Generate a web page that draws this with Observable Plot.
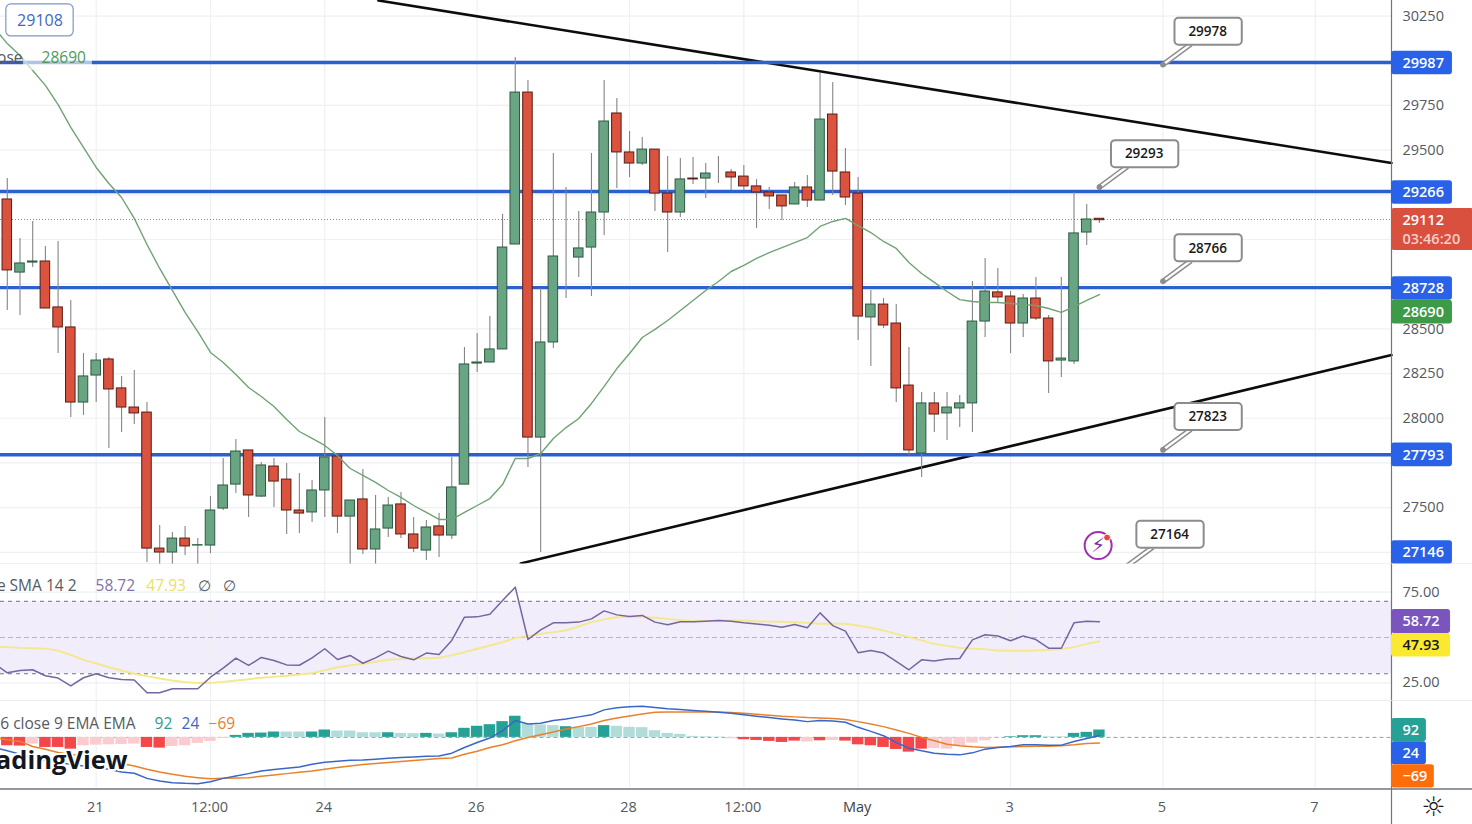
<!DOCTYPE html>
<html>
<head>
<meta charset="utf-8">
<script src="https://cdn.jsdelivr.net/npm/d3@7"></script>
<script src="https://cdn.jsdelivr.net/npm/@observablehq/plot@0.6"></script>
<style>
html,body{margin:0;padding:0;background:#fff;overflow:hidden}
#chart svg{display:block;overflow:hidden}
</style>
</head>
<body>
<div id="chart"></div>
<script>
// ---- data (4h candles, index 0 = 19 Apr 20:00) ----
const opens=[29224,28815,28871,28877,28620,28508,28088,28239,28329,28167,
28060,28032,27271,27249,27327,27288,27288,27495,27629,27820,
27562,27730,27657,27484,27473,27596,27786,27450,27546,27266,
27383,27518,27350,27260,27395,27344,27629,28306,28312,28385,
28972,29822,27892,28424,28899,28899,28955,29151,29705,29487,
29425,29503,29257,29151,29341,29341,29375,29375,29352,29297,
29263,29246,29196,29291,29218,29699,29375,29257,28564,28636,
28530,28183,27803,28083,28027,28055,28083,28541,28704,28681,
28530,28670,28558,28323,28318,29039,29116];
const highs=[29341,29006,29101,28961,28989,28659,28362,28362,28340,28234,
28267,28088,27400,27361,27395,27327,27562,27775,27881,27820,
27753,27775,27747,27691,27652,28004,27786,27540,27713,27568,
27557,27585,27445,27428,27467,27781,28396,28474,28569,29140,
30018,29890,28726,29481,29291,29157,29481,29890,29789,29604,
29571,29503,29464,29453,29459,29425,29464,29392,29414,29336,
29291,29246,29319,29358,29929,29878,29509,29347,28715,28670,
28636,28396,28144,28144,28144,28127,28765,28894,28838,28709,
28692,28787,28575,28787,29263,29196,29118];
const lows=[28603,28575,28843,28614,28362,28004,28016,28088,27831,27920,
27965,27193,27150,27150,27232,27170,27243,27484,27579,27445,
27557,27501,27350,27355,27417,27445,27355,27150,27238,27170,
27333,27327,27249,27204,27221,27322,27629,28256,28312,28385,
28972,27725,27249,28390,28670,28787,28681,29022,29285,29347,
29414,29157,28927,29123,29308,29229,29313,29274,29274,29062,
29168,29106,29196,29179,29218,29246,29190,28435,28290,28502,
28088,27792,27669,27920,27876,27948,27920,28452,28642,28362,
28452,28547,28139,28228,28301,28966,29090];
const closes=[28827,28866,28877,28614,28508,28088,28234,28323,28161,28060,
28027,27271,27249,27327,27283,27290,27484,27624,27814,27568,
27736,27646,27484,27467,27596,27781,27450,27540,27266,27378,
27512,27350,27271,27389,27344,27613,28301,28312,28385,28955,
29822,27892,28424,28905,28899,28950,29151,29660,29487,29425,
29503,29257,29151,29336,29336,29369,29375,29347,29297,29263,
29241,29185,29291,29218,29671,29380,29235,28569,28636,28519,
28167,27820,28083,28021,28060,28083,28541,28709,28676,28530,
28670,28558,28318,28334,29034,29112,29108];
// indicator series begin one bar earlier (index -1)
const emaValues=[30180,30096,30029,29945,29862,29755,29627,29515,29403,29313,29235,29118,28972,28838,28715,28592,28485,28368,28312,28245,28172,28122,28066,27993,27926,27887,27848,27792,27719,27680,27641,27596,27557,27512,27473,27434,27434,27473,27512,27551,27629,27775,27775,27803,27887,27948,27999,28083,28178,28278,28362,28452,28497,28547,28603,28659,28715,28765,28821,28855,28894,28927,28955,28983,29011,29073,29101,29118,29078,29039,28989,28950,28871,28810,28760,28709,28664,28653,28648,28648,28642,28636,28631,28614,28592,28625,28659,28692];
const rsiValues=[35.5,30.5,31.8,32.2,28.9,27.6,23.3,27.8,30,27.8,26.8,26.6,19.5,19.5,21.7,21.7,21.7,28.1,33.1,38.6,34.6,39,37.3,34.9,34.7,38.8,43.8,37.9,40.1,35.8,38.8,42.5,39.5,37.7,41.4,40.6,48.4,61.2,61.4,62.9,70.4,77.8,48.9,54.2,58.1,58.1,58.5,60.3,64.7,62.5,61.6,62.2,58.5,57,58.7,58.7,59,59.4,59,58.1,57.4,56.8,55.7,57.2,55.4,63.6,56.6,53.5,41.6,42.8,41.4,36.8,32.2,37.7,37.1,38.1,38.4,48.7,51.5,50.8,48.2,50.9,48.9,44.1,44.1,58.1,59,58.72];
const rsiSignal=[44.9,44.7,44.3,44.1,43.9,42.8,40.4,37.7,35.7,33.6,31.8,30,28.7,27.4,26.3,25.4,25,25,25.5,26.3,27,27.8,28.3,28.9,29.6,30.3,32,33.6,34.6,35.5,36.6,37.7,38.1,38.4,38.6,38.8,40.3,41.9,43.8,45.6,47.4,49.8,50.9,52,53,53.9,56.1,58.5,60,61.2,61.4,61.4,60.9,60.3,59.6,59,59.2,59.4,59.4,59.4,59,58.8,58.7,58.5,58.1,57.6,57.6,57.6,56.6,55.4,53.9,52,50.2,48.4,46.5,45.4,44.3,43.9,43.6,42.8,42.7,42.7,42.8,43.2,43.6,44.7,46.5,47.93];
const macdValues=[-125,-167,-208,-250,-284,-313,-334,-355,-375,-396,-430,-446,-509,-542,-563,-571,-575,-550,-509,-480,-450,-417,-400,-384,-367,-334,-309,-296,-284,-280,-271,-259,-250,-242,-234,-230,-196,-125,-63,-8,83,209,167,175,209,230,255,280,342,367,380,388,371,355,346,334,325,313,300,280,263,246,230,217,196,209,205,188,125,75,21,-63,-134,-167,-196,-209,-217,-192,-146,-125,-113,-92,-92,-96,-96,-50,-13,24];
const macdSignal=[-8,-29,-50,-113,-146,-188,-209,-234,-259,-292,-325,-355,-396,-430,-459,-484,-500,-513,-509,-505,-500,-484,-467,-450,-434,-417,-396,-375,-355,-338,-325,-313,-300,-288,-275,-263,-255,-209,-171,-125,-92,-42,0,33,67,104,134,167,209,242,267,292,313,317,317,317,317,317,309,300,288,275,263,255,246,242,234,221,196,167,134,92,50,0,-42,-84,-105,-117,-125,-121,-117,-113,-109,-109,-105,-92,-75,-69];
const histValues=[-104,-108,-83,-125,-125,-146,-104,-96,-92,-88,-83,-125,-133,-113,-104,-75,-50,-13,25,50,54,67,67,67,67,92,79,79,58,58,58,50,46,50,42,58,113,138,158,196,263,167,154,146,133,125,125,146,138,125,121,83,50,38,13,8,4,-17,-29,-38,-50,-63,-46,-58,-42,-38,-46,-92,-104,-125,-150,-183,-146,-138,-146,-104,-70,-42,-4,8,21,21,8,8,50,63,92];
const histStrong="ddpddd"+"ppppp"+"dd"+"ppppp"+"dddd"+"pp"+"dd"+"pppp"+"d"+"pp"+"d"+"p"+"dddddd"+"ppp"+"d"+"pp"+"d"+"pppppppppp"+"ddddd"+"p"+"d"+"p"+"ddddddd"+"pppppp"+"ddd"+"pp"+"ddd";
const levels=[29987,29266,28728,27793];
const priceGrid=[27250,27500,27750,28000,28250,28500,28750,29000,29250,29500,29750,30000,30250];
const priceLabels=[27500,28000,28250,28500,29500,29750,30250];
const rsiTicks=[25,75];
const timeTicks=[[2023,3,21,0],[2023,3,22,12],[2023,3,24,0],[2023,3,26,0],[2023,3,28,0],[2023,3,29,12],[2023,4,1,0],[2023,4,3,0],[2023,4,5,0],[2023,4,7,0]];
const timeLabels=["21","12:00","24","26","28","12:00","May","3","5","7"];
const tagLabels=["29987","29266","28728","28690","27793","27146"];
const tagCenters=[29987,29263,28726,28594,27795,27249];
const tagColors=["#2962e8","#2962e8","#2962e8","#3d9b48","#2962e8","#2962e8"];
const noteLabels=[29978,29293,28766,27823,27164];
const noteHours=[336,316,336,336,324];

// ---- helpers and styles ----
const at=h=>new Date(Date.UTC(2023,3,21)+h*36e5);
const barH=i=>(i-7)*4;
const xDomain=[at(-30.14),at(408)];
const axisEdge=408, rightEdge=434;
const font="'Open Sans',sans-serif";
const gridC="#eef0f4", labelC="#555a62";
const W=1472;
const green="#6aa583", red="#d9533f";
const base={width:W,marginLeft:0,marginTop:0,marginBottom:0,marginRight:81,
  style:{fontFamily:font,fontSize:"14.5px",background:"#fff"}};
const xScale={type:"utc",domain:xDomain,axis:null};
const gridDates=timeTicks.map(t=>new Date(Date.UTC(...t)));
const vgrid=()=>Plot.ruleX(gridDates,{stroke:gridC,strokeWidth:1.2});
const tagRect=(data,o)=>Plot.rect(data,{x1:at(axisEdge),rx:3,...o});
const tagText=(data,o)=>Plot.text(data,{x:at(axisEdge),dx:11,textAnchor:"start",fontSize:14.5,fontWeight:600,...o});

// ---- tables ----
const candles=opens.map((o,i)=>({h:barH(i),o,hi:highs[i],lo:lows[i],c:closes[i],up:closes[i]>=o}));
const series=v=>v.map((y,k)=>({d:at(barH(k-1)),y}));
const tags=tagLabels.map((label,i)=>({label,c:tagCenters[i],color:tagColors[i]}));
const notes=noteLabels.map((v,i)=>({v,h:noteHours[i]}));
const hist=histValues.map((v,i)=>({h:barH(i),v,s:histStrong[i]||"p"}));

// ---- price pane ----
const pxP=5.594;
const main=Plot.plot({...base,height:564,
  x:xScale,y:{domain:[30337-564*pxP,30337],axis:null},
  marks:[
    vgrid(),
    Plot.ruleY(priceGrid,{stroke:gridC,strokeWidth:1.2}),
    Plot.axisY(priceLabels,{anchor:"right",label:null,tickSize:0,tickPadding:11,fill:labelC,fontSize:14.5,tickFormat:d=>String(d)}),
    Plot.ruleY([29112],{stroke:"#8a8a8a",strokeWidth:1,strokeDasharray:"1 2"}),
    Plot.line([{d:at(88.9),y:30337},{d:at(408),y:29428}],{x:"d",y:"y",stroke:"#0c0c0c",strokeWidth:2.6}),
    Plot.line([{d:at(133.7),y:27188},{d:at(408),y:28354}],{x:"d",y:"y",stroke:"#0c0c0c",strokeWidth:2.6}),
    Plot.ruleY(levels,{stroke:"#2c5fd0",strokeWidth:3.4,dy:-.5}),
    Plot.ruleX(candles,{x:d=>at(d.h),y1:"lo",y2:"hi",stroke:"#858585",strokeWidth:1.1}),
    Plot.rect(candles,{filter:d=>d.up,x1:d=>at(d.h-1.5),x2:d=>at(d.h+1.5),y1:"o",y2:"c",fill:green,stroke:"#2c5a43",strokeWidth:1}),
    Plot.rect(candles,{filter:d=>!d.up,x1:d=>at(d.h-1.5),x2:d=>at(d.h+1.5),y1:"o",y2:"c",fill:red,stroke:"#5a1c12",strokeWidth:1}),
    Plot.line(series(emaValues),{x:"d",y:"y",stroke:"#6fa374",strokeWidth:1.4}),
    // legend
    Plot.rect([0],{x1:at(-22.9),x2:at(-1.2),y1:29945,y2:30057,fill:"#fff",fillOpacity:.62}),
    Plot.text(["EMA 20 close"],{x:at(-23.2),y:30013,textAnchor:"end",fill:"#555a62",fontSize:15.5}),
    Plot.text(["28690"],{x:at(-17.2),y:30013,textAnchor:"start",fill:"#4f9a58",fontSize:15.5}),
    Plot.rect([0],{x1:at(-28.3),x2:at(-7.1),y1:30136,y2:30315,fill:"#fff",stroke:"#7f96c9",strokeWidth:1.2,rx:5}),
    Plot.text(["29108"],{x:at(-17.7),y:30225,fill:"#3f68c4",fontSize:16}),
    // price notes
    Plot.link(notes,{x1:d=>at(d.h),y1:"v",x2:d=>at(d.h+8.8),y2:d=>d.v+115,stroke:"#8c8c8c",strokeWidth:5.4}),
    Plot.link(notes,{x1:d=>at(d.h+.6),y1:d=>d.v+8,x2:d=>at(d.h+8.8),y2:d=>d.v+115,stroke:"#fff",strokeWidth:2.4}),
    Plot.dot(notes,{x:d=>at(d.h),y:"v",r:2.8,fill:"#8c8c8c"}),
    Plot.rect(notes,{x1:d=>at(d.h+3.8),x2:d=>at(d.h+25),y1:d=>d.v+109,y2:d=>d.v+260,fill:"#fff",stroke:"#8c8c8c",strokeWidth:2,rx:4}),
    Plot.text(notes,{x:d=>at(d.h+14.1),y:d=>d.v+185,text:d=>String(d.v),fill:"#1a1a1a",fontSize:13.5,fontWeight:600}),
    // alert icon
    Plot.dot([0],{x:at(315.6),y:27288,r:13.5,stroke:"#a12fb0",strokeWidth:2,fill:"#fff"}),
    Plot.text(["⚡"],{x:at(315.6),y:27288,fontFamily:"DejaVu Sans",fontSize:20,fill:"#7a2fa8"}),
    Plot.dot([0],{x:at(318.4),y:27333,r:3.4,fill:"#f0413a",stroke:"#fff",strokeWidth:1}),
    // frame and tags
    Plot.ruleX([0],{x:at(axisEdge),y1:27182,y2:30337,stroke:"#70757e",strokeWidth:1.2}),
    tagRect(tags,{x2:at(427.2),y1:d=>d.c-66,y2:d=>d.c+66,fill:d=>d.color,fillOpacity:1}),
    tagText(tags,{y:"c",text:"label",fill:"#fff"}),
    tagRect([0],{x2:at(rightEdge),y1:28938,y2:29173,fill:"#d9503f"}),
    tagText(["29112"],{y:29105,fill:"#fff"}),
    tagText(["03:46:20"],{y:29000,fill:"#f8cfc7"}),
    Plot.ruleY([27182.5],{x1:at(-31),x2:at(rightEdge),stroke:"#dfe2e8",strokeWidth:1.6})
  ]});

// ---- RSI pane ----
const rsiTop=90.3, rsiBottom=rsiTop-137/1.812;
const rsi=Plot.plot({...base,height:137,
  x:xScale,y:{domain:[rsiBottom,rsiTop],axis:null},
  marks:[
    Plot.rect([0],{x1:xDomain[0],x2:xDomain[1],y1:30,y2:70,fill:"#f1edfa"}),
    vgrid(),
    Plot.ruleY(rsiTicks,{stroke:gridC,strokeWidth:1.2}),
    Plot.axisY(rsiTicks,{anchor:"right",label:null,tickSize:0,tickPadding:11,fill:labelC,fontSize:14.5,tickFormat:d=>d.toFixed(2)}),
    Plot.ruleY([30,70],{stroke:"#70747c",strokeWidth:1,strokeDasharray:"4 4"}),
    Plot.ruleY([50],{stroke:"#b9b3c9",strokeWidth:1,strokeDasharray:"5 3"}),
    Plot.line(series(rsiSignal),{x:"d",y:"y",stroke:"#f3e98b",strokeWidth:1.9}),
    Plot.line(series(rsiValues),{x:"d",y:"y",stroke:"#77659f",strokeWidth:1.5}),
    Plot.text(["RSI 14 close SMA 14 2"],{x:at(-6.2),y:78.2,textAnchor:"end",fill:"#555a62",fontSize:15.5}),
    Plot.text(["58.72"],{x:at(-.2),y:78.2,textAnchor:"start",fill:"#7f73a8",fontSize:15.5}),
    Plot.text(["47.93"],{x:at(15.8),y:78.2,textAnchor:"start",fill:"#ebe15f",fontSize:15.5}),
    Plot.text(["∅"],{x:at(32.2),y:78.2,textAnchor:"start",fill:"#555a62",fontSize:15}),
    Plot.text(["∅"],{x:at(40.1),y:78.2,textAnchor:"start",fill:"#555a62",fontSize:15}),
    Plot.ruleX([0],{x:at(axisEdge),y1:rsiBottom,y2:rsiTop,stroke:"#70757e",strokeWidth:1.2}),
    tagRect([0],{x2:at(426.6),y1:52.2,y2:65.4,fill:"#7a55bd"}),
    tagText(["58.72"],{y:58.8,fill:"#fff"}),
    tagRect([0],{x2:at(426.6),y1:39.3,y2:52.2,fill:"#fbe92f"}),
    tagText(["47.93"],{y:45.9,fill:"#131722"}),
    Plot.ruleY([rsiBottom+.3],{x1:at(-31),x2:at(rightEdge),stroke:"#e4e6ea",strokeWidth:1.4})
  ]});

// ---- MACD pane and time axis ----
const macdTop=446, macdBottom=-641, macdFoot=-1091;
const histSets=[["d",true,"#26a195"],["p",true,"#b2dcd8"],["d",false,"#f5474a"],["p",false,"#fbcbd0"]];
const macd=Plot.plot({...base,height:123,marginBottom:35.5,
  x:xScale,y:{domain:[macdBottom,macdTop],axis:null},
  marks:[
    vgrid(),
    Plot.ruleY([0],{x2:at(408),x1:at(-30),stroke:"#9b9ea5",strokeWidth:1,strokeDasharray:"4 3"}),
    ...histSets.map(([s,pos,color])=>Plot.rect(hist,{filter:d=>d.s===s&&(d.v>=0)===pos,x1:d=>at(d.h-1.8),x2:d=>at(d.h+1.8),y1:0,y2:"v",fill:color})),
    Plot.line(series(macdSignal),{x:"d",y:"y",stroke:"#e8812b",strokeWidth:1.5}),
    Plot.line(series(macdValues),{x:"d",y:"y",stroke:"#3a66c8",strokeWidth:1.5}),
    Plot.text(["MACD 12 26 close 9 EMA EMA"],{x:at(12.4),y:171,textAnchor:"end",fill:"#555a62",fontSize:15.5}),
    Plot.text(["92"],{x:at(18.4),y:171,textAnchor:"start",fill:"#2b9d90",fontSize:15.5}),
    Plot.text(["24"],{x:at(26.9),y:171,textAnchor:"start",fill:"#3a66c8",fontSize:15.5}),
    Plot.text(["−69"],{x:at(35.4),y:171,textAnchor:"start",fill:"#ea7d2a",fontSize:15.5}),
    Plot.text(["TradingView"],{x:at(9.9),y:-291,textAnchor:"end",fill:"#131722",fontSize:25.5,fontWeight:700,stroke:"#fff",strokeWidth:4}),
    Plot.axisX(gridDates.filter((d,i)=>timeLabels[i]!=="May"),{anchor:"bottom",label:null,tickSize:0,tickPadding:13,dx:-1,fill:labelC,fontSize:14.5,
      tickFormat:d=>timeLabels[gridDates.findIndex(g=>+g===+d)]}),
    Plot.axisX(gridDates.filter((d,i)=>timeLabels[i]==="May"),{anchor:"bottom",label:null,tickSize:0,tickPadding:13,dx:-1,fill:"#3a3e46",fontSize:14.5,fontWeight:500,tickFormat:()=>"May"}),
    Plot.ruleX([0],{x:at(axisEdge),y1:macdFoot,y2:macdTop,stroke:"#70757e",strokeWidth:1.2}),
    Plot.ruleY([macdBottom],{x1:at(-31),x2:at(rightEdge),stroke:"#70757e",strokeWidth:1.4}),
    tagRect([0],{x2:at(419),y1:-54,y2:234,fill:"#26a195"}),
    tagText(["92"],{y:90,fill:"#fff"}),
    tagRect([0],{x2:at(419),y1:-341,y2:-54,fill:"#2962e8"}),
    tagText(["24"],{y:-197,fill:"#fff"}),
    tagRect([0],{x2:at(421.5),y1:-629,y2:-341,fill:"#ff6d0a"}),
    tagText(["−69"],{y:-485,fill:"#fff"}),
    Plot.text(["☼"],{x:at(421.2),y:-875,fontFamily:"DejaVu Sans",fontSize:27,fill:"#131722"})
  ]});

const root=document.getElementById("chart");
root.append(main,rsi,macd);
</script>
</body>
</html>
